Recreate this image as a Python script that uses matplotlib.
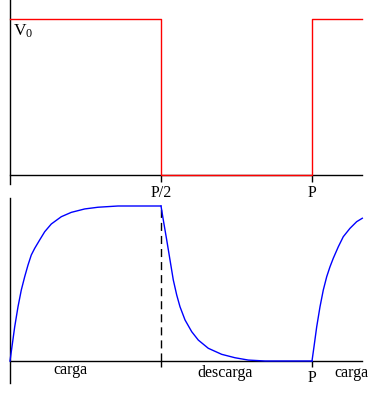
import matplotlib
matplotlib.use('Agg')
import matplotlib.pyplot as plt

plt.rcParams['font.family'] = ['Liberation Serif', 'DejaVu Serif']
plt.rcParams['lines.scale_dashes'] = False

# ========================================================
# Data (time in units of the period P, voltage in units of V0)
# ========================================================
square_t = [0.0, 0.5, 1.0, 1.166]
square_v = [1.0, 0.0, 1.0, 1.0]

charge1_t = [0.0, 0.0156, 0.0265, 0.0374, 0.0487, 0.0596, 0.0705, 0.0818,
             0.0983, 0.1149, 0.1368, 0.1699, 0.2030, 0.2474, 0.2914, 0.3576, 0.5]
charge1_v = [0.0, 0.221, 0.350, 0.458, 0.544, 0.619, 0.684, 0.727,
             0.781, 0.834, 0.884, 0.931, 0.959, 0.981, 0.992, 1.0, 1.0]

discharge_t = [0.5, 0.5076, 0.5189, 0.5298, 0.5407, 0.5520, 0.5629, 0.5795,
               0.6017, 0.6235, 0.6566, 0.7010, 0.7450, 0.7891, 0.8444, 1.0]
discharge_v = [1.0, 0.910, 0.781, 0.652, 0.523, 0.426, 0.350, 0.265,
               0.189, 0.135, 0.082, 0.043, 0.021, 0.006, 0.0, 0.0]

charge2_t = [1.0, 1.0066, 1.0156, 1.0265, 1.0374, 1.0487, 1.0596, 1.0705,
             1.0871, 1.1036, 1.1258, 1.1480, 1.1666]
charge2_v = [0.0, 0.092, 0.221, 0.350, 0.458, 0.544, 0.608, 0.663,
             0.737, 0.802, 0.856, 0.899, 0.921]

tick_t = [0.5, 1.0]
top_tick_labels = ['P/2', 'P']
bottom_tick_labels = ['', 'P']

# ========================================================
# Layout in pixels
# ========================================================
W, H = 371, 396
fig = plt.figure(figsize=(W / 100, H / 100), dpi=100)

x0, x1 = 10, 362        # left axis / right end of time axis
px_per_t = 302.0
t_max = (x1 - x0) / px_per_t
LW = 1.0


def make_axes(y_top, y_bot, y_zero, px_per_v):
    ax = fig.add_axes([x0 / W, 1 - y_bot / H, (x1 - x0) / W, (y_bot - y_top) / H])
    ax.set_xlim(0, t_max)
    ax.set_ylim(-(y_bot - y_zero) / px_per_v, (y_zero - y_top) / px_per_v)
    for s in ('top', 'right'):
        ax.spines[s].set_visible(False)
    ax.spines['bottom'].set_position(('data', 0))
    ax.spines['left'].set_linewidth(LW)
    ax.spines['bottom'].set_linewidth(LW)
    ax.set_yticks([])
    ax.patch.set_visible(False)
    return ax


# --- Top: square wave ---
ax_top = make_axes(0, 184, 175, 156.0)
ax_top.plot(square_t, square_v, color='red', lw=LW, drawstyle='steps-post',
            clip_on=False, zorder=3)
ax_top.set_xticks(tick_t, top_tick_labels)
ax_top.tick_params(axis='x', direction='out', length=5, width=LW, pad=2.5,
                   labelsize=11.5)
ax_top.text(0.01, 0.974, r'$\mathregular{V_0}$', fontsize=12.5,
            ha='left', va='top')

# --- Bottom: capacitor voltage ---
ax_bot = make_axes(198, 383, 361, 155.0)
for t, v in [(charge1_t, charge1_v), (discharge_t, discharge_v),
             (charge2_t, charge2_v)]:
    ax_bot.plot(t, v, color='blue', lw=LW, clip_on=False, zorder=3)
ax_bot.plot([0.5, 0.5], [0.0, 1.0], color='black', lw=LW,
            dashes=(5.8, 3.6), zorder=2)
ax_bot.set_xticks(tick_t, bottom_tick_labels)
ax_bot.tick_params(axis='x', direction='out', length=4.5, width=LW, pad=2,
                   labelsize=11.5)

ax_bot.text(0.199, -0.058, 'carga', fontsize=11.5, ha='center', va='center')
ax_bot.text(0.712, -0.077, 'descarga', fontsize=11.5, ha='center', va='center')
ax_bot.text(1.132, -0.077, 'carga', fontsize=11.5, ha='center', va='center')

fig.savefig('out.png', dpi=100)
